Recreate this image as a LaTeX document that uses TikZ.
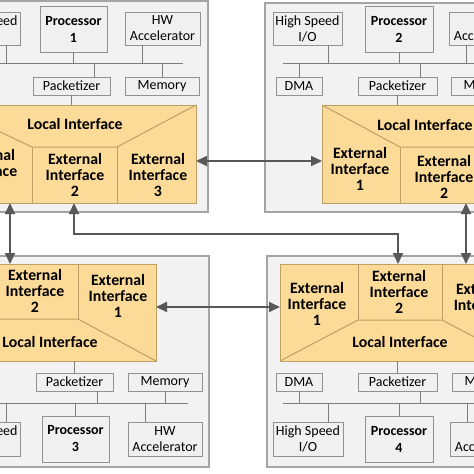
\documentclass[tikz,border=0pt]{standalone}
\usepackage{fontspec}
\setmainfont{Carlito}
\usetikzlibrary{arrows.meta}
\definecolor{tilefill}{RGB}{242,242,242}
\definecolor{tileline}{RGB}{165,165,165}
\definecolor{boxfill}{RGB}{240,240,240}
\definecolor{boxline}{RGB}{145,145,145}
\definecolor{panfill}{RGB}{252,218,152}
\definecolor{panline}{RGB}{190,160,100}
\definecolor{arrgray}{RGB}{88,88,88}
\definecolor{wiregray}{RGB}{125,125,125}
\begin{document}
\begin{tikzpicture}[x=1pt,y=-1pt,
  tile/.style={draw=tileline,fill=tilefill,line width=1.4pt,inner sep=0pt,outer sep=0pt},
  blk/.style={draw=boxline,fill=boxfill,line width=0.9pt,inner sep=0pt,outer sep=0pt,align=center,
    font=\fontsize{14}{16}\selectfont},
  proc/.style={blk,font=\fontsize{14}{17}\selectfont\bfseries},
  panel/.style={draw=panline,fill=panfill,line width=1pt,inner sep=0pt,outer sep=0pt},
  pline/.style={draw=panline,line width=1pt},
  ptxt/.style={align=center,font=\fontsize{15.8}{16}\selectfont\bfseries,inner sep=0pt},
  wire/.style={draw=wiregray,line width=1pt},
  conn/.style={draw=arrgray,line width=1.8pt,
    {Triangle[length=11pt,width=10pt]}-{Triangle[length=11pt,width=10pt]}}]
\useasboundingbox (0,0) rectangle (474,474);
\fill[white] (0,0) rectangle (474,474);
\clip (0,0) rectangle (474,474);

% ---------- tiles ----------
\node[tile,minimum width=268pt,minimum height=211pt] (t1) at (74,106.5) {};
\node[tile,minimum width=275pt,minimum height=209pt] (t2) at (402.5,107.5) {};
\node[tile,minimum width=269pt,minimum height=211pt] (t3) at (74.5,361.5) {};
\node[tile,minimum width=273pt,minimum height=211pt] (t4) at (403.5,361.5) {};

% ---------- tile 1 ----------
\node[blk,minimum width=69pt,minimum height=33pt] (hs1) at (-14.5,28.5) {High Speed\\I/O};
\node[proc,minimum width=67pt,minimum height=46pt] (p1) at (73.5,29) {Processor\\1};
\node[blk,minimum width=75pt,minimum height=33pt] (hw1) at (162.5,28.5) {HW\\Accelerator};
\node[blk,minimum width=77pt,minimum height=18pt] (pk1) at (71.5,86) {Packetizer};
\node[blk,minimum width=74pt,minimum height=18pt] (mem1) at (162,86) {Memory};
\coordinate (b1l) at (-60,63);
\coordinate (b1r) at (183,63);
\draw[wire] (b1l) -- (b1r);
\draw[wire] ([xshift=20.5pt]hs1.south) -- ([xshift=20.5pt]hs1.south |- b1l);
\draw[wire] (p1.south) -- (p1.south |- b1l);
\draw[wire] ([xshift=-20.5pt]hw1.south) -- ([xshift=-20.5pt]hw1.south |- b1l);
\draw[wire] ([xshift=22.5pt]pk1.north) -- ([xshift=22.5pt]pk1.north |- b1l);
\draw[wire] (mem1.north) -- (mem1.north |- b1l);
\node[panel,minimum width=253pt,minimum height=98pt] (pan1) at (69.5,154) {};
\draw[wire] (pk1.south) -- (pk1.south |- pan1.north);
\draw[pline] (-57,105) -- (32,147) -- (117,147) -- (196,105);
\draw[pline] (32,147) -- (32,203);
\draw[pline] (117,147) -- (117,203);
\node[ptxt] (li1) at (75,124) {Local Interface};
\node[ptxt] (e11) at (-12,171) {External\\Interface\\1};
\node[ptxt] (e12) at (75,175) {External\\Interface\\2};
\node[ptxt] (e13) at (158,175) {External\\Interface\\3};

% ---------- tile 2 ----------
\node[blk,minimum width=69pt,minimum height=33pt] (hs2) at (307.5,28.5) {High Speed\\I/O};
\node[proc,minimum width=68pt,minimum height=46pt] (p2) at (399,29) {Processor\\2};
\node[blk,minimum width=75pt,minimum height=33pt] (hw2) at (486.5,28.5) {HW\\Accelerator};
\node[blk,minimum width=46pt,minimum height=18pt] (dma2) at (299,86) {DMA};
\node[blk,minimum width=79pt,minimum height=18pt] (pk2) at (397.5,86) {Packetizer};
\node[blk,minimum width=74pt,minimum height=18pt] (mem2) at (488,86) {Memory};
\coordinate (b2l) at (283,63);
\coordinate (b2r) at (560,63);
\draw[wire] (b2l) -- (b2r);
\draw[wire] ([xshift=20.5pt]hs2.south) -- ([xshift=20.5pt]hs2.south |- b2l);
\draw[wire] (p2.south) -- (p2.south |- b2l);
\draw[wire] ([xshift=-20.5pt]hw2.south) -- ([xshift=-20.5pt]hw2.south |- b2l);
\draw[wire] (dma2.north) -- (dma2.north |- b2l);
\draw[wire] ([xshift=22.5pt]pk2.north) -- ([xshift=22.5pt]pk2.north |- b2l);
\draw[wire] (mem2.north) -- (mem2.north |- b2l);
\node[panel,minimum width=244pt,minimum height=98pt] (pan2) at (444,154) {};
\draw[wire] (pk2.south) -- (pk2.south |- pan2.north);
\draw[pline] (322,105) -- (400,147) -- (488,147) -- (566,105);
\draw[pline] (400,147) -- (400,203);
\draw[pline] (488,147) -- (488,203);
\node[ptxt] (li2) at (425,125) {Local Interface};
\node[ptxt] (e21) at (360,169) {External\\Interface\\1};
\node[ptxt] (e22) at (444,177) {External\\Interface\\2};
\node[ptxt] (e23) at (527,177) {External\\Interface\\3};

% ---------- tile 3 ----------
\node[panel,minimum width=246pt,minimum height=97pt] (pan3) at (33,312.5) {};
\draw[pline] (-94,361) -- (-10,319) -- (78,319) -- (156,361);
\draw[pline] (-10,319) -- (-10,264);
\draw[pline] (78,319) -- (78,264);
\node[ptxt] (e32) at (35,291) {External\\Interface\\2};
\node[ptxt] (e31) at (118,296) {External\\Interface\\1};
\node[ptxt] (li3) at (50,342) {Local Interface};
\node[blk,minimum width=77pt,minimum height=18pt] (pk3) at (74.5,382) {Packetizer};
\node[blk,minimum width=74pt,minimum height=18pt] (mem3) at (165,382) {Memory};
\node[blk,minimum width=69pt,minimum height=34pt] (hs3) at (-14.5,439) {High Speed\\I/O};
\node[proc,minimum width=67pt,minimum height=46pt] (p3) at (75.5,439) {Processor\\3};
\node[blk,minimum width=74pt,minimum height=34pt] (hw3) at (165,439) {HW\\Accelerator};
\coordinate (b3l) at (-60,403);
\coordinate (b3r) at (188,403);
\draw[wire] (b3l) -- (b3r);
\draw[wire] (pk3.north) -- (pk3.north |- pan3.south);
\draw[wire] ([xshift=22.5pt]pk3.south) -- ([xshift=22.5pt]pk3.south |- b3l);
\draw[wire] (mem3.south) -- (mem3.south |- b3l);
\draw[wire] ([xshift=20.5pt]hs3.north) -- ([xshift=20.5pt]hs3.north |- b3l);
\draw[wire] (p3.north) -- (p3.north |- b3l);
\draw[wire] ([xshift=-20pt]hw3.north) -- ([xshift=-20pt]hw3.north |- b3l);

% ---------- tile 4 ----------
\node[panel,minimum width=240pt,minimum height=97pt] (pan4) at (400,312.5) {};
\draw[pline] (280,361) -- (358,320) -- (442,320) -- (520,361);
\draw[pline] (358,320) -- (358,264);
\draw[pline] (442,320) -- (442,264);
\node[ptxt] (e41) at (317,304) {External\\Interface\\1};
\node[ptxt] (e42) at (399,292) {External\\Interface\\2};
\node[ptxt] (e43) at (483,305) {External\\Interface\\3};
\node[ptxt] (li4) at (400,342) {Local Interface};
\node[blk,minimum width=46pt,minimum height=18pt] (dma4) at (299,382) {DMA};
\node[blk,minimum width=79pt,minimum height=18pt] (pk4) at (397.5,382) {Packetizer};
\node[blk,minimum width=74pt,minimum height=18pt] (mem4) at (489,382) {Memory};
\node[blk,minimum width=70pt,minimum height=34pt] (hs4) at (308,439) {High Speed\\I/O};
\node[proc,minimum width=68pt,minimum height=46pt] (p4) at (399,439) {Processor\\4};
\node[blk,minimum width=75pt,minimum height=34pt] (hw4) at (487.5,439) {HW\\Accelerator};
\coordinate (b4l) at (283,403);
\coordinate (b4r) at (560,403);
\draw[wire] (b4l) -- (b4r);
\draw[wire] (pk4.north) -- (pk4.north |- pan4.south);
\draw[wire] (dma4.south) -- (dma4.south |- b4l);
\draw[wire] ([xshift=22.5pt]pk4.south) -- ([xshift=22.5pt]pk4.south |- b4l);
\draw[wire] (mem4.south) -- (mem4.south |- b4l);
\draw[wire] ([xshift=20pt]hs4.north) -- ([xshift=20pt]hs4.north |- b4l);
\draw[wire] (p4.north) -- (p4.north |- b4l);
\draw[wire] ([xshift=-20.5pt]hw4.north) -- ([xshift=-20.5pt]hw4.north |- b4l);

% ---------- inter-tile links ----------
\coordinate (mid) at (398,234);
\draw[conn] (pan1.east |- 0,161) -- (pan2.west |- 0,161);
\draw[conn] (pan3.east |- 0,307) -- (pan4.west |- 0,307);
\draw[conn] (pan1.south -| 10,0) -- (pan3.north -| 10,0);
\draw[conn] (pan2.south -| 466,0) -- (pan4.north -| 466,0);
\draw[conn] (pan1.south -| 74,0) |- (mid) -- (pan4.north -| mid);
\end{tikzpicture}
\end{document}
